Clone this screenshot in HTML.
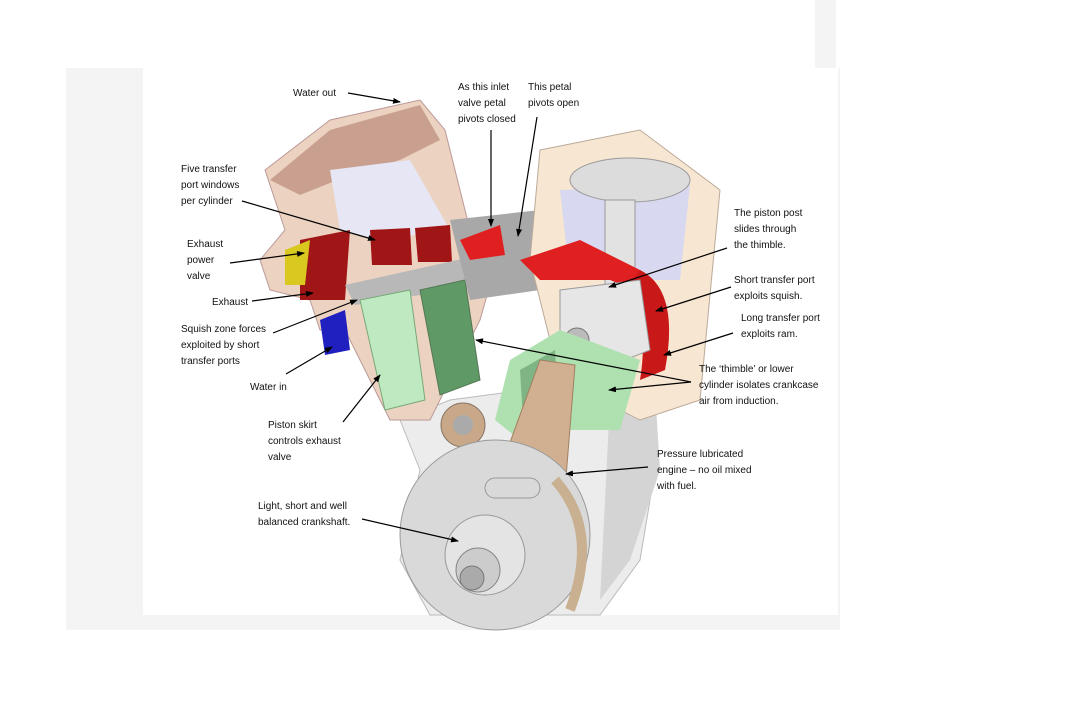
<!DOCTYPE html>
<html><head><meta charset="utf-8"><style>
html,body{margin:0;padding:0;background:#fff;}
svg{display:block;}
text{font-family:"Liberation Sans",sans-serif;font-size:10px;fill:#111;}
</style></head><body>
<svg width="1065" height="710" viewBox="0 0 1065 710" xmlns="http://www.w3.org/2000/svg">
<defs>
<marker id="a" markerWidth="8" markerHeight="8" refX="7" refY="4" orient="auto" markerUnits="userSpaceOnUse"><path d="M0,1 L8,4 L0,7 z" fill="#000"/></marker>
</defs>
<rect x="815" y="0" width="21" height="68" fill="#f4f4f4"/>
<rect x="66" y="68" width="774" height="562" fill="#f4f4f4"/>
<rect x="143" y="68" width="695" height="547" fill="#fff"/>

<!-- crankcase body -->
<path d="M400,420 L420,470 L400,560 L430,615 L600,615 L640,560 L655,470 L640,400 L600,380 L450,400 Z" fill="#ececec" stroke="#bbb"/>
<path d="M610,400 L655,390 L660,470 L630,560 L600,600 Z" fill="#d4d4d4"/>
<!-- left cylinder -->
<path d="M265,170 L330,120 L420,100 L445,130 L470,230 L500,250 L480,320 L430,420 L390,420 L345,330 L320,330 L310,300 L270,290 L260,260 L285,230 Z" fill="#ecd2c0" stroke="#b99"/>
<path d="M270,180 L330,130 L420,105 L440,140 L400,160 L350,175 L300,195 Z" fill="#c9a090"/>
<path d="M330,170 L410,160 L450,230 L380,240 L340,230 Z" fill="#e6e6f5"/>
<path d="M300,240 L350,230 L345,300 L300,300 Z" fill="#a01515"/>
<path d="M370,230 L410,228 L412,265 L372,265 Z" fill="#a01515"/>
<path d="M415,228 L450,225 L452,262 L418,262 Z" fill="#a01515"/>
<path d="M285,250 L310,240 L305,285 L285,285 Z" fill="#d8c820"/>
<path d="M320,320 L345,310 L350,350 L325,355 Z" fill="#2020c0"/>
<path d="M345,285 L480,255 L485,285 L355,305 Z" fill="#b8b8b8"/>
<path d="M360,300 L410,290 L425,400 L385,410 Z" fill="#bfe9c0" stroke="#7a7"/>
<path d="M420,290 L465,280 L480,380 L440,395 Z" fill="#5f9a66" stroke="#575"/>
<!-- inlet area -->
<path d="M450,220 L540,210 L540,290 L470,300 Z" fill="#a8a8a8"/>
<path d="M460,240 L500,225 L505,255 L470,260 Z" fill="#e02020"/>
<!-- right cylinder -->
<path d="M540,150 L640,130 L720,190 L700,400 L640,420 L560,380 L530,260 Z" fill="#f7e6d2" stroke="#ba9"/>
<path d="M560,190 L690,185 L680,280 L570,280 Z" fill="#d8d8f0"/>
<ellipse cx="630" cy="180" rx="60" ry="22" fill="#dcdcdc" stroke="#999"/>
<rect x="605" y="200" width="30" height="110" fill="#e2e2e2" stroke="#999"/>
<path d="M520,260 L580,240 L640,270 L660,300 L610,280 L540,280 Z" fill="#e02020"/>
<path d="M640,270 Q680,290 665,370 L640,380 Q650,320 625,290 Z" fill="#c81818"/>
<path d="M560,290 L640,280 L650,350 L600,370 L560,340 Z" fill="#e6e6e6" stroke="#999"/>
<circle cx="577" cy="340" r="12" fill="#bbb" stroke="#777"/>
<path d="M510,360 L560,330 L640,360 L620,430 L570,430 L520,440 L495,420 Z" fill="#aee0b0"/>
<path d="M520,370 L555,350 L560,440 L525,450 Z" fill="#7fb585"/>
<!-- conrods -->
<path d="M540,360 L575,365 L565,490 L545,500 L500,470 Z" fill="#d0b090" stroke="#a08060"/>
<circle cx="463" cy="425" r="22" fill="#c8a888" stroke="#876"/>
<circle cx="463" cy="425" r="10" fill="#aaa"/>
<!-- crank disk -->
<circle cx="495" cy="535" r="95" fill="#d9d9d9" stroke="#999"/>
<path d="M555,480 Q600,530 570,610" stroke="#c8b090" stroke-width="10" fill="none"/>
<rect x="485" y="478" width="55" height="20" rx="10" fill="none" stroke="#999"/>
<circle cx="485" cy="555" r="40" fill="#e4e4e4" stroke="#999"/>
<circle cx="478" cy="570" r="22" fill="#ccc" stroke="#888"/>
<circle cx="472" cy="578" r="12" fill="#aaa" stroke="#777"/>

<!-- arrows -->
<g stroke="#000" stroke-width="1.2" fill="none" marker-end="url(#a)">
<line x1="348" y1="93" x2="400" y2="102"/>
<line x1="491" y1="130" x2="491" y2="226"/>
<line x1="537" y1="117" x2="518" y2="236"/>
<line x1="242" y1="201" x2="375" y2="240"/>
<line x1="230" y1="263" x2="304" y2="253"/>
<line x1="252" y1="301" x2="313" y2="293"/>
<line x1="273" y1="333" x2="357" y2="300"/>
<line x1="286" y1="374" x2="332" y2="347"/>
<line x1="343" y1="422" x2="380" y2="375"/>
<line x1="362" y1="519" x2="458" y2="541"/>
<line x1="727" y1="248" x2="609" y2="287"/>
<line x1="731" y1="287" x2="656" y2="311"/>
<line x1="733" y1="333" x2="664" y2="355"/>
<line x1="691" y1="382" x2="476" y2="340"/>
<line x1="691" y1="382" x2="609" y2="390"/>
<line x1="648" y1="467" x2="566" y2="474"/>
</g>

<!-- labels -->
<text x="293" y="96">Water out</text>
<text x="458" y="90">As this inlet</text><text x="458" y="106">valve petal</text><text x="458" y="122">pivots closed</text>
<text x="528" y="90">This petal</text><text x="528" y="106">pivots open</text>
<text x="181" y="172">Five transfer</text><text x="181" y="188">port windows</text><text x="181" y="204">per cylinder</text>
<text x="187" y="247">Exhaust</text><text x="187" y="263">power</text><text x="187" y="279">valve</text>
<text x="212" y="305">Exhaust</text>
<text x="181" y="332">Squish zone forces</text><text x="181" y="348">exploited by short</text><text x="181" y="364">transfer ports</text>
<text x="250" y="390">Water in</text>
<text x="268" y="428">Piston skirt</text><text x="268" y="444">controls exhaust</text><text x="268" y="460">valve</text>
<text x="258" y="509">Light, short and well</text><text x="258" y="525">balanced crankshaft.</text>
<text x="734" y="216">The piston post</text><text x="734" y="232">slides through</text><text x="734" y="248">the thimble.</text>
<text x="734" y="283">Short transfer port</text><text x="734" y="299">exploits squish.</text>
<text x="741" y="321">Long transfer port</text><text x="741" y="337">exploits ram.</text>
<text x="699" y="372">The ‘thimble’ or lower</text><text x="699" y="388">cylinder isolates crankcase</text><text x="699" y="404">air from induction.</text>
<text x="657" y="457">Pressure lubricated</text><text x="657" y="473">engine – no oil mixed</text><text x="657" y="489">with fuel.</text>
</svg>
</body></html>
